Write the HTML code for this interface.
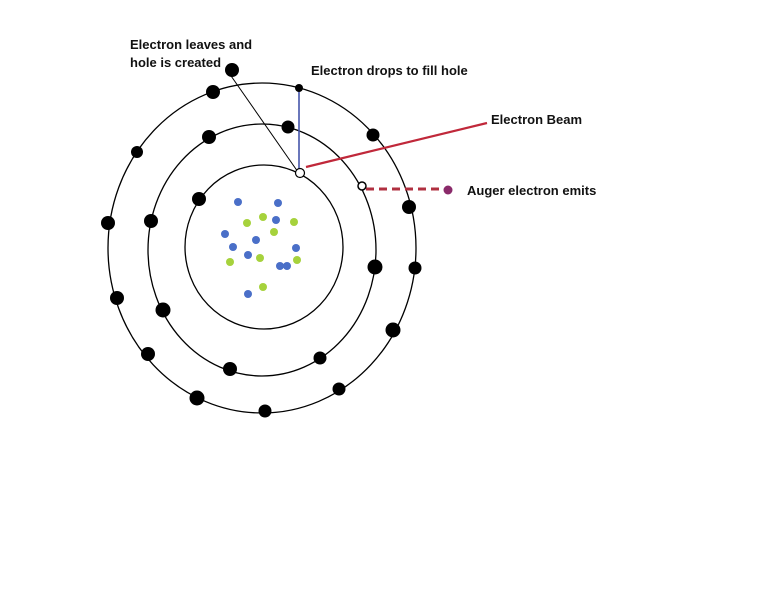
<!DOCTYPE html>
<html><head><style>
html,body{margin:0;padding:0;background:#fff;}
svg{display:block;}
text{font-family:"Liberation Sans",sans-serif;font-weight:bold;font-size:13px;fill:#111;}
</style></head><body>
<svg width="768" height="614" viewBox="0 0 768 614">
<g fill="none" stroke="#000" stroke-width="1.3">
<ellipse cx="264" cy="247" rx="79" ry="82"/>
<ellipse cx="262" cy="250" rx="114" ry="126"/>
<ellipse cx="262" cy="248" rx="154" ry="165"/>
</g>
<line x1="229" y1="73" x2="298" y2="172" stroke="#000" stroke-width="1"/>
<line x1="299" y1="88" x2="299" y2="170" stroke="#4455aa" stroke-width="1.6"/>
<line x1="306" y1="167" x2="487" y2="123" stroke="#c0283a" stroke-width="2.2"/>
<line x1="366" y1="189" x2="444" y2="189" stroke="#b03040" stroke-width="3" stroke-dasharray="8,5"/>
<circle cx="448" cy="190" r="4.5" fill="#8a2a6a"/>
<circle cx="300" cy="173" r="4.5" fill="#fff" stroke="#000" stroke-width="1.2"/>
<circle cx="362" cy="186" r="4" fill="#fff" stroke="#000" stroke-width="1.5"/>
<g fill="#000">
<circle cx="232" cy="70" r="7"/><circle cx="213" cy="92" r="7"/><circle cx="299" cy="88" r="4"/>
<circle cx="288" cy="127" r="6.5"/><circle cx="209" cy="137" r="7"/><circle cx="373" cy="135" r="6.5"/>
<circle cx="137" cy="152" r="6"/><circle cx="199" cy="199" r="7"/><circle cx="151" cy="221" r="7"/>
<circle cx="108" cy="223" r="7"/><circle cx="409" cy="207" r="7"/><circle cx="415" cy="268" r="6.5"/>
<circle cx="375" cy="267" r="7.5"/><circle cx="117" cy="298" r="7"/><circle cx="163" cy="310" r="7.5"/>
<circle cx="393" cy="330" r="7.5"/><circle cx="320" cy="358" r="6.5"/><circle cx="230" cy="369" r="7"/>
<circle cx="148" cy="354" r="7"/><circle cx="197" cy="398" r="7.5"/><circle cx="265" cy="411" r="6.5"/>
<circle cx="339" cy="389" r="6.5"/>
</g>
<g fill="#4a6fc8">
<circle cx="238" cy="202" r="4"/><circle cx="278" cy="203" r="4"/><circle cx="276" cy="220" r="4"/>
<circle cx="225" cy="234" r="4"/><circle cx="256" cy="240" r="4"/><circle cx="233" cy="247" r="4"/>
<circle cx="248" cy="255" r="4"/><circle cx="296" cy="248" r="4"/><circle cx="280" cy="266" r="4"/>
<circle cx="287" cy="266" r="4"/><circle cx="248" cy="294" r="4"/>
</g>
<g fill="#a6d23c">
<circle cx="247" cy="223" r="4"/><circle cx="263" cy="217" r="4"/><circle cx="294" cy="222" r="4"/>
<circle cx="274" cy="232" r="4"/><circle cx="230" cy="262" r="4"/><circle cx="260" cy="258" r="4"/>
<circle cx="297" cy="260" r="4"/><circle cx="263" cy="287" r="4"/>
</g>
<text x="130" y="49">Electron leaves and</text>
<text x="130" y="67">hole is created</text>
<text x="311" y="75">Electron drops to fill hole</text>
<text x="491" y="124">Electron Beam</text>
<text x="467" y="195">Auger electron emits</text>
</svg>
</body></html>
